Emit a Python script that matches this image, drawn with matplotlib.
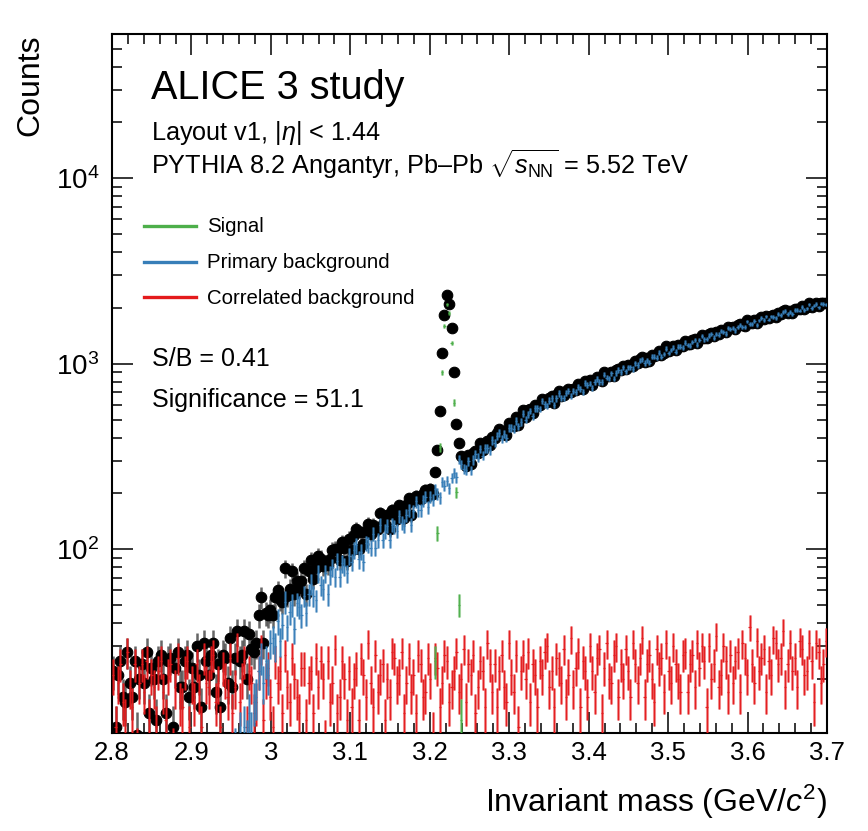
import numpy as np
import matplotlib
matplotlib.use('Agg')
import matplotlib.pyplot as plt
from matplotlib.ticker import MultipleLocator, FixedLocator, LogLocator, NullFormatter, FuncFormatter
from matplotlib.lines import Line2D

plt.rcParams['font.family'] = ['Liberation Sans', 'DejaVu Sans']
plt.rcParams['mathtext.fontset'] = 'custom'
plt.rcParams['mathtext.rm'] = 'Liberation Sans'
plt.rcParams['mathtext.it'] = 'Liberation Sans:italic'
plt.rcParams['mathtext.bf'] = 'Liberation Sans:bold'

# ---------------- data ----------------
x_min, x_max, n_bins = 2.8, 3.7, 300

primary_background = [
    1, 0, 2, 1, 1, 3, 0, 1, 2, 1, 2, 1, 0, 2, 3, 1, 2, 2, 1, 3,
    2, 3, 1, 4, 2, 3, 5, 2, 3, 4, 3, 2, 5, 4, 3, 6, 4, 3, 5, 6,
    3, 2, 4, 2, 5, 3, 4, 6, 3, 7, 5, 8, 6, 10, 7, 11, 9, 13, 10, 15,
    16, 22, 26, 19, 25, 21, 31, 33, 30, 41, 32, 39, 52, 38, 46, 50, 37, 51, 49, 44,
    56, 45, 57, 65, 56, 53, 74, 64, 61, 74, 57, 73, 80, 71, 86, 71, 84, 81, 74, 92,
    85, 99, 105, 88, 97, 85, 108, 106, 102, 121, 102, 112, 135, 112, 125, 133, 112, 135, 132, 126,
    151, 139, 134, 153, 162, 135, 160, 181, 162, 162, 183, 192, 168, 192, 185, 210, 199, 190, 231, 220,
    233, 213, 242, 259, 244, 305, 287, 270, 267, 298, 266, 303, 324, 312, 347, 319, 350, 350, 341, 386,
    374, 407, 424, 393, 417, 398, 450, 451, 446, 492, 459, 486, 539, 499, 532, 556, 520, 575, 576, 571,
    628, 603, 592, 633, 651, 599, 650, 691, 653, 653, 696, 714, 668, 713, 701, 747, 727, 708, 786, 766,
    782, 744, 797, 827, 798, 794, 874, 842, 835, 888, 831, 893, 925, 901, 958, 910, 958, 956, 938, 1007,
    985, 1036, 1060, 1010, 1044, 1012, 1090, 1090, 1079, 1146, 1092, 1129, 1208, 1144, 1188, 1220, 1161, 1238, 1235, 1222,
    1300, 1266, 1254, 1313, 1342, 1268, 1344, 1406, 1353, 1356, 1418, 1449, 1383, 1451, 1436, 1505, 1477, 1454, 1566, 1538,
    1565, 1511, 1585, 1627, 1585, 1579, 1690, 1644, 1635, 1706, 1626, 1711, 1756, 1722, 1800, 1731, 1798, 1793, 1766, 1860,
    1832, 1898, 1928, 1856, 1900, 1853, 1954, 1951, 1934, 2019, 1945, 1990, 2090, 2002, 2057, 2094, 2015, 2112, 2104, 2083,
]

correlated_background = [
    21, 11, 19, 24, 15, 12, 28, 18, 14, 24, 8, 19, 24, 17, 25, 12, 21, 18, 11, 22,
    25, 17, 12, 21, 24, 8, 18, 26, 15, 14, 22, 25, 11, 19, 15, 24, 17, 11, 26, 19,
    18, 25, 27, 15, 19, 11, 23, 20, 16, 26, 13, 18, 30, 15, 20, 25, 11, 22, 19, 13,
    15, 22, 29, 12, 20, 23, 16, 11, 25, 19, 22, 13, 27, 18, 15, 26, 20, 16, 13, 23,
    23, 12, 19, 22, 13, 26, 18, 25, 20, 9, 25, 15, 19, 29, 13, 16, 25, 20, 12, 22,
    14, 20, 23, 12, 26, 21, 16, 31, 19, 14, 27, 17, 21, 24, 12, 20, 16, 28, 26, 19,
    21, 28, 13, 19, 26, 17, 21, 13, 27, 24, 16, 17, 26, 20, 10, 26, 23, 14, 19, 27,
    25, 15, 18, 22, 28, 17, 20, 29, 15, 24, 21, 27, 13, 18, 25, 22, 14, 31, 24, 17,
    24, 14, 22, 27, 18, 15, 31, 21, 17, 27, 11, 22, 27, 20, 28, 15, 24, 21, 14, 25,
    21, 28, 30, 18, 22, 14, 26, 23, 19, 29, 16, 21, 33, 18, 23, 28, 14, 25, 22, 16,
    30, 22, 17, 26, 29, 13, 23, 31, 20, 19, 27, 30, 16, 24, 20, 29, 22, 16, 31, 24,
    19, 26, 33, 16, 24, 27, 20, 15, 29, 23, 26, 17, 31, 22, 19, 30, 24, 20, 17, 27,
    28, 17, 24, 27, 18, 31, 23, 30, 25, 14, 30, 20, 24, 34, 18, 21, 30, 25, 17, 27,
    19, 25, 28, 17, 31, 26, 21, 38, 24, 19, 32, 22, 26, 29, 17, 25, 21, 33, 31, 24,
    26, 36, 18, 24, 31, 22, 26, 18, 32, 29, 21, 22, 31, 25, 15, 31, 28, 19, 24, 32,
]

signal_first_bin = 134
signal_values = [3, 25, 122, 355, 899, 1592, 2090, 1870, 1290, 617, 203, 50, 12, 3]

legend_labels = ["Signal", "Primary background", "Correlated background"]
colors = {"Signal": "#4daf4a", "Primary background": "#377eb8", "Correlated background": "#e41a1c"}

x_ticks = [2.8, 2.9, 3.0, 3.1, 3.2, 3.3, 3.4, 3.5, 3.6, 3.7]
y_ticks = [1e2, 1e3, 1e4]
y_lim = (10.2, 6.0e4)

# ---------------- derived ----------------
edges = np.linspace(x_min, x_max, n_bins + 1)
centers = 0.5 * (edges[1:] + edges[:-1])
half_w = 0.5 * (edges[1] - edges[0])

primary = np.array(primary_background, dtype=float)
correlated = np.array(correlated_background, dtype=float)
signal = np.zeros(n_bins)
signal[signal_first_bin:signal_first_bin + len(signal_values)] = signal_values
total = primary + correlated + signal

# ---------------- figure ----------------
W, H = 868, 831
fig = plt.figure(figsize=(W / 100, H / 100), dpi=100)
ax = fig.add_axes([112 / W, 1 - 733 / H, (827 - 112) / W, (733 - 34) / H])
ax.set_yscale('log')

def draw_component(vals, color, z):
    m = vals > 0
    xs, ys = centers[m], vals[m]
    err = np.sqrt(ys)
    lo = np.minimum(err, ys * 0.999)
    ax.errorbar(xs, ys, yerr=[lo, err], fmt='none', ecolor=color, elinewidth=2.2,
                alpha=0.45, capsize=0, zorder=z)
    ax.errorbar(xs, ys, yerr=[lo, err], xerr=half_w, fmt='none', ecolor=color,
                elinewidth=0.9, alpha=0.95, capsize=0, zorder=z + 0.1)

# total (black points)
terr = np.sqrt(total)
ax.errorbar(centers, total, yerr=terr, fmt='none', ecolor=(0.25, 0.25, 0.25, 0.8),
            elinewidth=1.8, capsize=0, zorder=2)
ax.plot(centers, total, 'o', color='black', ms=7.6, mec='black', mew=0.8, zorder=2.5)

draw_component(correlated, colors["Correlated background"], 3)
draw_component(primary, colors["Primary background"], 4)
draw_component(signal, colors["Signal"], 5)

ax.set_xlim(x_min, x_max)
ax.set_ylim(*y_lim)

ax.xaxis.set_major_locator(FixedLocator(x_ticks))
ax.xaxis.set_minor_locator(MultipleLocator(0.02))
ax.xaxis.set_major_formatter(FuncFormatter(lambda v, p: f"{v:g}"))
ax.yaxis.set_major_locator(FixedLocator(y_ticks))
ax.yaxis.set_minor_locator(LogLocator(base=10, subs=np.arange(2, 10)))
ax.yaxis.set_minor_formatter(NullFormatter())

ax.tick_params(which='both', direction='in', top=True, right=True, width=1.1, color='black')
ax.tick_params(which='major', length=15)
ax.tick_params(which='minor', length=7.5)
ax.tick_params(axis='x', which='major', labelsize=18.5, pad=6)
ax.tick_params(axis='y', which='major', labelsize=20, pad=9)
for s in ax.spines.values():
    s.set_linewidth(1.5)

# axis titles
fig.text(30 / W, 1 - 34 / H, 'Counts', rotation=90, ha='center', va='top', fontsize=23)
fig.text(827 / W, 1 - 812 / H, r'Invariant mass (GeV/$c^{2}$)', ha='right', va='baseline', fontsize=23)

# annotations
fig.text(151 / W, 1 - 99 / H, 'ALICE 3 study', fontsize=28.5, va='baseline', ha='left')
fig.text(151 / W, 1 - 140 / H, r'Layout v1, $|\eta|$ < 1.44', fontsize=18.2, va='baseline')
fig.text(151 / W, 1 - 174 / H, r'PYTHIA 8.2 Angantyr, Pb–Pb $\sqrt{s_{\mathrm{NN}}}$ = 5.52 TeV',
         fontsize=18.2, va='baseline')
fig.text(152 / W, 1 - 366 / H, 'S/B = 0.41', fontsize=18, va='baseline')
fig.text(152 / W, 1 - 407 / H, 'Significance = 51.1', fontsize=18, va='baseline')

# legend
for lab, yp in zip(legend_labels, [226, 262, 297]):
    fig.add_artist(Line2D([144 / W, 196 / W], [1 - yp / H, 1 - yp / H], color=colors[lab],
                          lw=2.4, transform=fig.transFigure))
    fig.text(207 / W, 1 - (yp + 1) / H, lab, fontsize=14.7, va='center', ha='left')

fig.savefig('out.png', dpi=100)
